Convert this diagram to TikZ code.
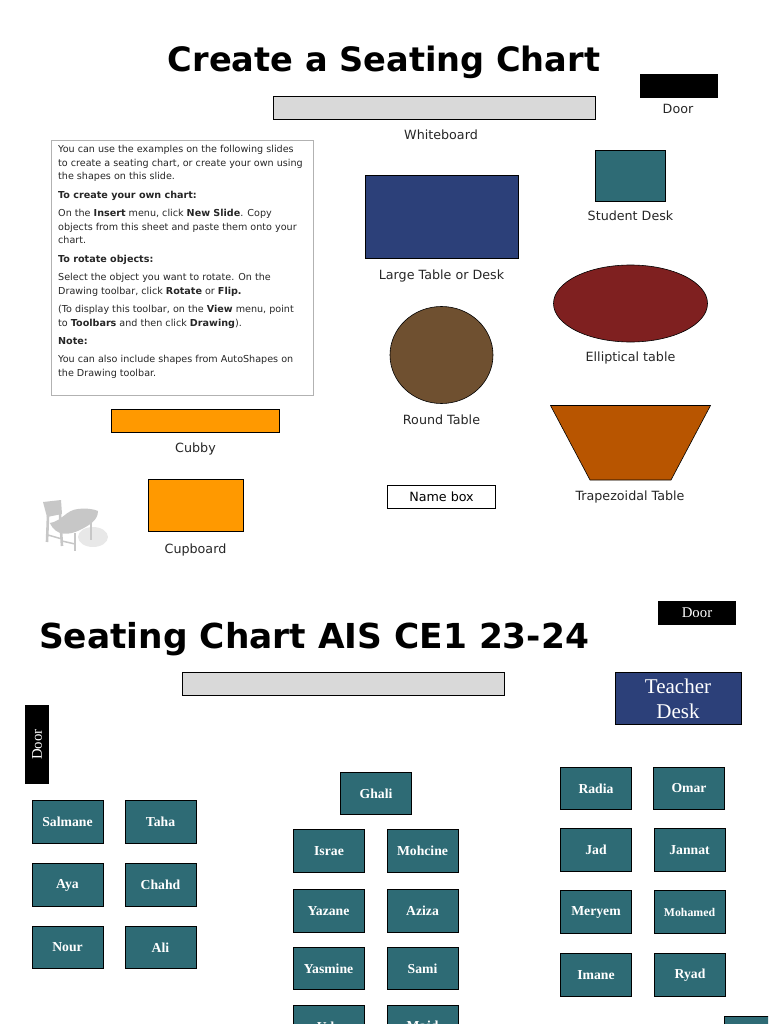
\documentclass[tikz,border=0pt]{standalone}
\usepackage{fontspec}
\setmainfont{DejaVu Sans}
\newfontfamily\serifname{Liberation Serif}
\usepackage{tikz}
\usetikzlibrary{shapes.geometric}
\definecolor{deskteal}{HTML}{2E6B75}
\definecolor{tableblue}{HTML}{2C4079}
\definecolor{cubbyorange}{HTML}{FF9900}
\definecolor{boardgrey}{HTML}{D9D9D9}
\definecolor{ellipsered}{HTML}{7F2020}
\definecolor{roundbrown}{HTML}{6F5030}
\definecolor{traporange}{HTML}{B85500}
\tikzset{x=1pt,y=-1pt,
  desk/.style={draw=black, fill=deskteal, text=white, font=\serifname\fontsize{13.7}{15}\bfseries\selectfont, minimum width=71.3pt, minimum height=42.5pt, inner sep=0pt, line width=0.7pt},
  caption/.style={font=\fontsize{12.7}{14}\selectfont, text=black!85, inner sep=0pt},
  shapebox/.style={draw=black, line width=0.6pt, inner sep=0pt},
  doorbox/.style={fill=black, text=white, font=\serifname\fontsize{14.8}{16}\selectfont, inner sep=0pt},
  info/.style={font=\fontsize{9.6}{13.4}\selectfont, text=black!85, anchor=north west, inner sep=0pt, align=left},
  chairline/.style={draw=black!22, line width=2.6pt}
}
\begin{document}
\begin{tikzpicture}
    \useasboundingbox (0,0) rectangle (768,1024);
    \clip (0,0) rectangle (768,1024);

    % first sheet
    \node[font=\fontsize{33.6}{38}\bfseries\selectfont] (title) at (384,62.5) {Create a Seating Chart};
    \node[shapebox, fill=boardgrey, minimum width=322pt, minimum height=23pt] (board) at (434.5,108) {};
    \node[caption] (board-label) at (441,135) {Whiteboard};
    \node[fill=black, minimum width=78.5pt, minimum height=24pt, inner sep=0pt] (door) at (679,86) {};
    \node[caption] (door-label) at (678,109) {Door};

    \node[draw=black!30, line width=0.7pt, minimum width=262.5pt, minimum height=255pt, inner sep=0pt] (infobox) at (182.5,268) {};
    \node[info] (info1) at (58,145.5) {You can use the examples on the following slides\\to create a seating chart, or create your own using\\the shapes on this slide.};
    \node[info] (info2) at (58,191.5) {\textbf{To create your own chart:}};
    \node[info] (info3) at (58,209.5) {On the \textbf{Insert} menu, click \textbf{New Slide}. Copy\\objects from this sheet and paste them onto your\\chart.};
    \node[info] (info4) at (58,255.5) {\textbf{To rotate objects:}};
    \node[info] (info5) at (58,273.5) {Select the object you want to rotate. On the\\Drawing toolbar, click \textbf{Rotate} or \textbf{Flip.}};
    \node[info] (info6) at (58,305.5) {(To display this toolbar, on the \textbf{View} menu, point\\to \textbf{Toolbars} and then click \textbf{Drawing}).};
    \node[info] (info7) at (58,337.5) {\textbf{Note:}};
    \node[info] (info8) at (58,355.5) {You can also include shapes from AutoShapes on\\the Drawing toolbar.};

    \node[shapebox, fill=tableblue, minimum width=153.5pt, minimum height=83pt] (large) at (442,217) {};
    \node[caption] (large-label) at (441.5,275.5) {Large Table or Desk};
    \node[shapebox, fill=deskteal, minimum width=70pt, minimum height=51pt] (student) at (630.5,175.5) {};
    \node[caption] (student-label) at (630.5,216) {Student Desk};
    \node[shapebox, ellipse, fill=ellipsered, minimum width=154pt, minimum height=77pt] (elliptical) at (630.5,303.5) {};
    \node[caption] (elliptical-label) at (630.5,358) {Elliptical table};
    \node[shapebox, ellipse, fill=roundbrown, minimum width=103pt, minimum height=97pt] (round) at (441.5,355) {};
    \node[caption] (round-label) at (441.5,419.5) {Round Table};
    \coordinate (trap-a) at (550.5,405.5);
    \coordinate (trap-b) at (710.5,405.5);
    \coordinate (trap-c) at (671,480);
    \coordinate (trap-d) at (590,480);
    \draw[line width=0.6pt, fill=traporange] (trap-a) -- (trap-b) -- (trap-c) -- (trap-d) -- cycle;
    \node[caption] (trap-label) at (630,496.5) {Trapezoidal Table};
    \node[shapebox, minimum width=108pt, minimum height=23pt, font=\fontsize{12.7}{14}\selectfont] (namebox) at (441.5,497) {\raisebox{1pt}{Name box}};
    \node[shapebox, fill=cubbyorange, minimum width=168pt, minimum height=23pt] (cubby) at (195.5,421) {};
    \node[caption] (cubby-label) at (195.5,449) {Cubby};
    \node[shapebox, fill=cubbyorange, minimum width=95pt, minimum height=52pt] (cupboard) at (195.5,505) {};
    \node[caption] (cupboard-label) at (195.5,549.5) {Cupboard};

    % faded chair and desk
    \fill[black!9] (93,537) ellipse [x radius=15, y radius=10];
    \fill[black!22] (43,502) -- (61,500) -- (62,514) -- (47,517) -- cycle;
    \draw[chairline] (48,516) -- (47,542);
    \draw[chairline] (60,514) -- (62,546);
    \draw[chairline] (75,533) -- (75,551);
    \draw[chairline] (91,522) -- (91,540);
    \draw[chairline, line width=1.5pt] (48,535) -- (62,539);
    \draw[chairline, line width=1.5pt] (62,541) -- (75,544);
    \fill[black!22] (50,523) .. controls (62,521) and (66,510) .. (78,509) .. controls (86,508) and (94,509) .. (98,511) .. controls (98,520) and (90,525) .. (80,530) .. controls (70,535) and (56,537) .. (50,523) -- cycle;

    % second sheet
    \node[font=\fontsize{34.4}{38}\bfseries\selectfont, anchor=west, inner sep=0pt] (title2) at (39,639) {Seating Chart AIS CE1 23-24};
    \node[doorbox, minimum width=78.5pt, minimum height=24.5pt] (door2) at (697,613) {Door};
    \node[shapebox, fill=boardgrey, minimum width=322pt, minimum height=23pt] (board2) at (343.5,684) {};
    \node[draw=black, fill=tableblue, text=white, line width=0.7pt, minimum width=126pt, minimum height=52.5pt, inner sep=0pt, align=center, font=\serifname\fontsize{21}{25}\selectfont] (teacher) at (678,698.5) {Teacher\\Desk};
    \node[doorbox, rotate=90, minimum width=78.5pt, minimum height=24.5pt] (door3) at (37,744.5) {Door};

    % left group
    \node[desk] (salmane) at (67.5,822) {Salmane};
    \node[desk] (taha) at (160.5,822) {Taha};
    \node[desk] (aya) at (67.5,885) {Aya};
    \node[desk] (chahd) at (160.5,885) {Chahd};
    \node[desk] (nour) at (67.5,947.5) {Nour};
    \node[desk] (ali) at (160.5,947.5) {Ali};

    % middle group
    \node[desk] (ghali) at (376,793.5) {Ghali};
    \node[desk] (israe) at (329,851) {Israe};
    \node[desk] (mohcine) at (422.5,851) {Mohcine};
    \node[desk] (yazane) at (328.5,911) {Yazane};
    \node[desk] (aziza) at (422.5,911) {Aziza};
    \node[desk] (yasmine) at (328.5,968.5) {Yasmine};
    \node[desk] (sami) at (422.5,968.5) {Sami};
    \node[desk] (uda) at (329,1027) {Uda};
    \node[desk] (majd) at (422.5,1027) {Majd};

    % right group
    \node[desk] (radia) at (596,788.5) {Radia};
    \node[desk] (omar) at (689,788.5) {Omar};
    \node[desk] (jad) at (596,850) {Jad};
    \node[desk] (jannat) at (689.5,850) {Jannat};
    \node[desk] (meryem) at (596,912) {Meryem};
    \node[desk, font=\serifname\fontsize{11.8}{13}\bfseries\selectfont] (mohamed) at (689.5,912) {Mohamed};
    \node[desk] (imane) at (596,975) {Imane};
    \node[desk] (ryad) at (690,975) {Ryad};
    \node[desk] (corner) at (760,1038) {};
\end{tikzpicture}
\end{document}
